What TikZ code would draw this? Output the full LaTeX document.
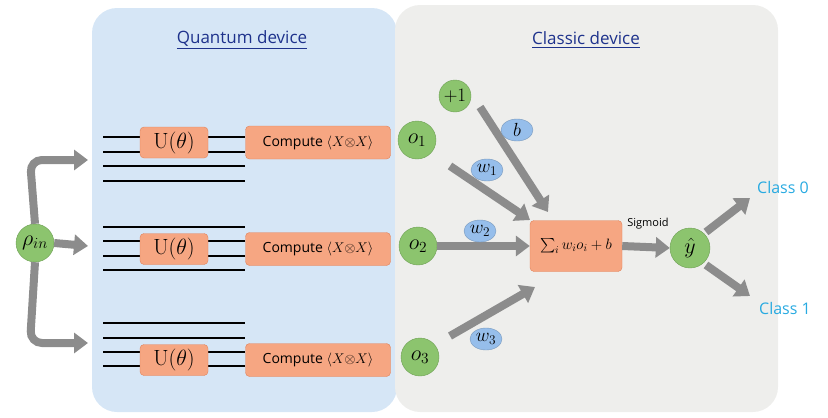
\RequirePackage{fix-cm}
\documentclass[tikz,border=0pt]{standalone}
\usepackage[no-math]{fontspec}
\setmainfont{Open Sans}
\usepackage{amsmath}
\usetikzlibrary{arrows.meta,shapes.geometric}
\definecolor{qblue}{RGB}{214,230,246}
\definecolor{cgrey}{RGB}{238,238,236}
\definecolor{gfill}{RGB}{140,196,110}
\definecolor{gline}{RGB}{110,160,85}
\definecolor{ofill}{RGB}{246,166,130}
\definecolor{oline}{RGB}{225,130,90}
\definecolor{bfill}{RGB}{150,190,235}
\definecolor{ttl}{RGB}{30,50,140}
\definecolor{cls}{RGB}{40,170,225}
\begin{document}
\begin{tikzpicture}[x=1pt,y=-1pt,
  circ/.style={circle,fill=gfill,draw=gline,inner sep=0pt,minimum size=#1},
  circ/.default=38pt,
  obox/.style={rectangle,rounded corners=4pt,fill=ofill,draw=oline,inner sep=0pt},
  wgt/.style={ellipse,fill=bfill,draw=bfill!80!black,inner sep=0pt,minimum width=32pt,minimum height=22pt},
  fat/.style={draw=black!45,line width=8pt,-{Triangle[length=14pt,width=20pt]},color=black!45},
  wire/.style={line width=1.1pt},
  big/.style={font=\fontsize{22}{24}\selectfont},
  every node/.style={font=\fontsize{14}{16}\selectfont}]
\useasboundingbox (0,0) rectangle (828,418);
% panels
\fill[qblue,rounded corners=25pt] (92,8) rectangle (397,412);
\fill[cgrey,rounded corners=25pt] (395,5) rectangle (778,412);
\node[text=ttl,font=\fontsize{17}{19}\selectfont] (tq) at (242,40) {\underline{Quantum device}};
\node[text=ttl,font=\fontsize{17}{19}\selectfont] (tc) at (586,40) {\underline{Classic device}};
% input
\node[circ=38pt,big] (rho) at (35,243) {$\rho_{in}$};
\coordinate (a1) at (88,160);
\coordinate (a2) at (88,246);
\coordinate (a3) at (88,343);
\draw[fat,rounded corners=12pt] (rho.north) -- (30,160) -- (a1);
\draw[fat] (rho.east) -- (a2);
\draw[fat,rounded corners=12pt] (rho.south) -- (30,343) -- (a3);
% circuits: wire y positions, U rows
\foreach \g/\ya/\yb/\yc/\yd/\yu/\yv in {1/137/152/166/181/127/158,2/227/241/256/270/233/265,3/323/338/352/366/344/376}{
  \foreach \y in {\ya,\yb,\yc,\yd} \draw[wire] (103,\y) -- (245,\y);
  \node[obox,minimum width=68pt,minimum height=31pt,big] (u\g) at (174,{(\yu+\yv)/2}) {$\mathrm{U}(\theta)$};
  \node[obox,minimum width=145pt,minimum height=33pt] (c\g) at (318,{(\yu+\yv)/2}) {Compute $\langle X{\otimes}X\rangle$};
}
% outputs
\node[circ=38pt,big] (o1) at (417,140) {$o_1$};
\node[circ=38pt,big] (o2) at (418,246) {$o_2$};
\node[circ=38pt,big] (o3) at (420,357) {$o_3$};
\node[circ=32pt,font=\fontsize{19}{21}\selectfont] (p1) at (455,96) {$+1$};
\node[obox,minimum width=92pt,minimum height=51pt,font=\fontsize{15}{17}\selectfont] (sum) at (576,246) {$\sum_i w_i o_i + b$};
\node[circ=40pt,big] (yh) at (690,248) {$\hat{y}$};
\coordinate (s1) at (548,212);
\coordinate (s2) at (530,220);
\coordinate (s3) at (535,287);
\draw[fat] (480,107) -- (s1);
\draw[fat] (450,166) -- (s2);
\draw[fat] (o2.east) -- (sum.west);
\draw[fat] (450,336) -- (s3);
\draw[fat] (sum.east) -- (yh.west);
\node[wgt,font=\fontsize{19}{21}\selectfont] (wb) at (517,130) {$b$};
\node[wgt,font=\fontsize{19}{21}\selectfont] (w1) at (487,170) {$w_1$};
\node[wgt,font=\fontsize{19}{21}\selectfont] (w2) at (480,231) {$w_2$};
\node[wgt,font=\fontsize{19}{21}\selectfont] (w3) at (486,339) {$w_3$};
\node[font=\fontsize{11}{13}\selectfont] (sig) at (648,224) {Sigmoid};
\node[text=cls,font=\fontsize{16}{18}\selectfont] (k0) at (783,187) {Class 0};
\node[text=cls,font=\fontsize{16}{18}\selectfont] (k1) at (785,308) {Class 1};
\draw[fat] (706,232) -- (750,198);
\draw[fat] (706,265) -- (750,296);
\end{tikzpicture}
\end{document}
